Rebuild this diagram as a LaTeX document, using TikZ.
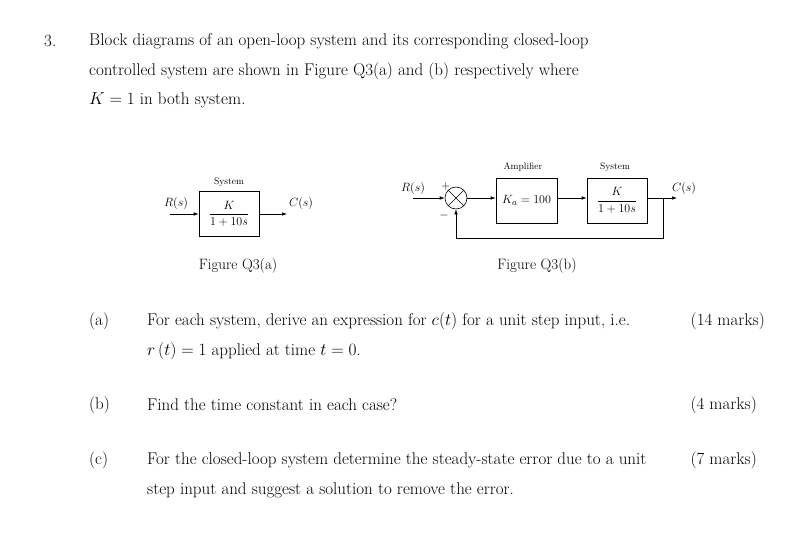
\documentclass[tikz,border=0pt]{standalone}
\usetikzlibrary{arrows.meta}
\begin{document}
\begin{tikzpicture}[x=1pt,y=-1pt,
  txt/.style={anchor=west,inner sep=0pt,font=\fontsize{17}{20}\selectfont},
  blk/.style={draw,minimum width=60pt,minimum height=45pt,inner sep=0pt,line width=0.6pt},
  sm/.style={font=\fontsize{12.5}{14}\selectfont,inner sep=0pt},
  lbl/.style={font=\fontsize{9.5}{11}\selectfont,inner sep=0pt},
  sig/.style={-{Latex[length=5pt,width=3.5pt]},line width=0.6pt}]
\useasboundingbox (0,0) rectangle (793,544);
\node[txt] (n3) at (44,41) {3.};
\node[txt] (l1) at (89,41) {Block diagrams of an open-loop system and its corresponding closed-loop};
\node[txt] (l2) at (89,71) {controlled system are shown in Figure Q3(a) and (b) respectively where};
\node[txt] (l3) at (89,100) {$K=1$ in both system.};
% (a)
\node[blk,sm] (sa) at (229,214) {$\displaystyle\frac{K}{1+10s}$};
\node[lbl] (sal) at (229,182) {System};
\coordinate (ain) at (170,214);
\coordinate (aout) at (287,214);
\draw[sig] (ain) -- (sa.west);
\draw[sig] (sa.east) -- (aout);
\node[sm] (ra) at (176,203) {$R(s)$};
\node[sm] (ca) at (301,203) {$C(s)$};
\node[font=\fontsize{15}{17}\selectfont] (fa) at (238,266) {Figure Q3(a)};
% (b)
\node[draw,circle,minimum size=22pt,inner sep=0pt,line width=0.6pt] (sum) at (456,198) {};
\draw[line width=0.6pt] (sum.north west) -- (sum.south east) (sum.north east) -- (sum.south west);
\node[blk,sm,minimum width=61pt] (amp) at (526.5,200.5) {$K_a=100$};
\node[blk,sm] (sys) at (617,200.5) {$\displaystyle\frac{K}{1+10s}$};
\node[lbl] (ampl) at (523,167) {Amplifier};
\node[lbl] (sysl) at (615,167) {System};
\coordinate (bin) at (413,198);
\coordinate (bout) at (677,198);
\coordinate (br) at (663,198);
\coordinate (fb) at (663,238);
\draw[sig] (bin) -- (sum.west);
\draw[sig] (sum.east) -- (amp.west |- sum.east);
\draw[sig] (amp.east |- sum.east) -- (sys.west |- sum.east);
\draw[sig] (sys.east |- sum.east) -- (bout);
\draw[sig] (br) -- (fb) -| (sum.south);
\node[sm] (rb) at (413,188) {$R(s)$};
\node[sm] (cb) at (684,188) {$C(s)$};
\node[sm] (plus) at (446,186) {$+$};
\node[sm] (minus) at (444,215) {$-$};
\node[font=\fontsize{15}{17}\selectfont] (fb2) at (537,266) {Figure Q3(b)};
% questions
\node[txt] (qa) at (89,321) {(a)};
\node[txt] (qa1) at (147,321) {For each system, derive an expression for $c(t)$ for a unit step input, i.e.};
\node[txt] (qa2) at (147,351) {$r\left(t\right)=1$ applied at time $t=0$.};
\node[txt,anchor=east] (ma) at (765,321) {(14 marks)};
\node[txt] (qb) at (89,405) {(b)};
\node[txt] (qb1) at (147,405) {Find the time constant in each case?};
\node[txt,anchor=east] (mb) at (757,405) {(4 marks)};
\node[txt] (qc) at (89,460) {(c)};
\node[txt] (qc1) at (147,460) {For the closed-loop system determine the steady-state error due to a unit};
\node[txt] (qc2) at (147,490) {step input and suggest a solution to remove the error.};
\node[txt,anchor=east] (mc) at (757,460) {(7 marks)};
\end{tikzpicture}
\end{document}
